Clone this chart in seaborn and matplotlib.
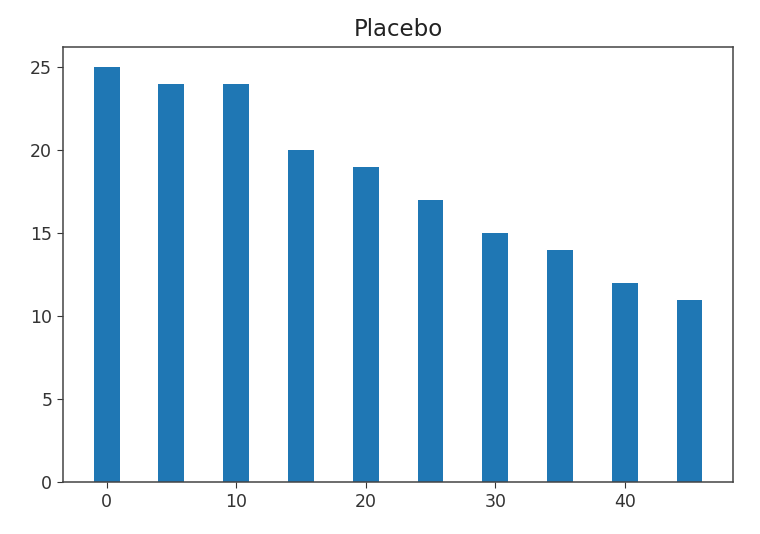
import matplotlib
matplotlib.use('Agg')
import matplotlib.pyplot as plt
import seaborn as sns

# values
doses = [0, 5, 10, 15, 20, 25, 30, 35, 40, 45]
counts = [25, 24, 24, 20, 19, 17, 15, 14, 12, 11]

fig = plt.figure(figsize=(7.6, 5.34), dpi=100)
ax = fig.add_axes([0.0833, 0.0974, 0.881, 0.8152])

sns.barplot(x=doses, y=counts, native_scale=True, width=0.4,
            color='#1f77b4', saturation=1, linewidth=0, ax=ax)

ax.set_title('Placebo', fontsize=16.5, color='#222222', pad=8)
ax.tick_params(labelsize=12.5, length=4.5, colors='#333333')
for sp in ax.spines.values():
    sp.set_color('#444444')
    sp.set_linewidth(1.1)
ax.set_xlim(-3.35, 48.35)
ax.set_ylim(0, 26.25)
ax.set_xticks([0, 10, 20, 30, 40])
ax.set_yticks([0, 5, 10, 15, 20, 25])

fig.savefig('out.png')
